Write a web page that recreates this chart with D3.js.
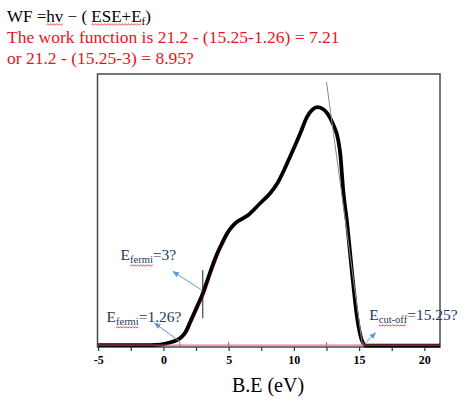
<!DOCTYPE html>
<html>
<head>
<meta charset="utf-8">
<script src="https://cdn.jsdelivr.net/npm/d3@7"></script>
<style>
body{margin:0;background:#fff;}
svg{display:block;}
</style>
</head>
<body>
<div id="chart"></div>
<script>
// spectrum: binding energy (eV) / intensity (arb. units, peak = 100)
var energy = [-5, -2, -1, -0.25, 0.5, 1.28, 1.7, 2.05, 2.6, 3.0, 3.35, 3.75, 4.1, 4.5, 4.9, 5.3, 5.65, 6.4, 7.4, 8.2, 8.75, 9.7, 10.5, 11.0, 11.4, 11.8, 12.2, 12.55, 13.0, 13.4, 13.55, 13.78, 14.08, 14.46, 14.84, 15.3, 15.5, 16, 18, 21.2];
var intensity = [0, 0, 0, 0.2, 1.1, 2.9, 5.5, 9.7, 16.4, 21.4, 26.9, 33.2, 38.2, 42.9, 47.1, 50.0, 51.8, 54.2, 59.5, 63.9, 68.1, 79.0, 89.1, 95.8, 98.8, 100, 99.3, 97.5, 92.9, 86.1, 80.7, 65.1, 51.3, 30.3, 11.8, 0.8, -0.2, -0.2, -0.2, -0.2];

var xTicks = [-5, 0, 5, 10, 15, 20];
var xMinorTicks = [-2.5, 2.5, 7.5, 12.5, 17.5];
var xLabel = "B.E (eV)";

// pink fit markers on the baseline
var markEnergies = [1.26, 5, 12.5, 15.3];

// tangent on the cut-off edge, and the bar at 3 eV
var tangentE = [12.5, 15.25];
var tangentI = [110.5, 0];
var barE = 3.02;
var barI = [11.3, 31.5];

// annotation labels: main letter, subscript, rest
var noteMain = ["E", "E", "E"];
var noteSub = ["fermi", "fermi", "cut-off"];
var noteRest = ["=3?", "=1.26?", "=15.25?"];
var noteE = [-3.28, -4.36, 15.78];
var noteI = [35.7, 9.7, 10.5];

// arrows: from (E,I) to (E,I)
var arrowFromE = [2.94, 1.28, 15.46];
var arrowFromI = [23.1, 1.4, 0.8];
var arrowToE = [0.77, -0.64, 16.23];
var arrowToI = [30.8, 9.1, 5.0];

var redLines = ["The work function is 21.2 - (15.25-1.26) = 7.21",
                "or 21.2 - (15.25-3) = 8.95?"];

var width = 474, height = 417;
var serif = "'Liberation Serif','Times New Roman',serif";

var svg = d3.select("#chart").append("svg")
    .attr("width", width)
    .attr("height", height);

var x = d3.scaleLinear().domain([-5.05, 21.2]).range([97.5, 440]);
var y = d3.scaleLinear().domain([-0.8, 113.9]).range([347, 74]);

//little red squiggle like the word spell-check marks
function wavy(x0, x1, yy){
    var p = "M" + x0 + "," + yy;
    var up = true;
    for (var xx = x0 + 1.5; xx <= x1; xx += 1.5){
        p += "L" + xx + "," + (up ? yy - 1.2 : yy);
        up = !up;
    }
    return p;
}
function squiggle(node, yy){
    var n = node.getNumberOfChars();
    var a = node.getStartPositionOfChar(0).x;
    var b = node.getEndPositionOfChar(n - 1).x;
    svg.append("path")
        .attr("d", wavy(a, b, yy))
        .attr("fill", "none")
        .attr("stroke", "#e0202a")
        .attr("stroke-width", 0.8);
}

// ---- header text
var t1 = svg.append("text")
    .attr("x", 7).attr("y", 22)
    .style("font-family", serif)
    .style("font-size", "17px")
    .attr("fill", "#000");
t1.append("tspan").text("WF =");
var hv = t1.append("tspan").text("hv");
t1.append("tspan").text(" \u2212 ( ");
var ese = t1.append("tspan").text("ESE+E");
t1.append("tspan").attr("dy", 3).style("font-size", "11px").text("f");
t1.append("tspan").attr("dy", -3).text(")");
squiggle(hv.node(), 25);
squiggle(ese.node(), 25);

svg.selectAll(".redline")
    .data(redLines)
    .enter().append("text")
    .attr("class", "redline")
    .attr("x", 7)
    .attr("y", function(d, i){ return 43 + i * 21; })
    .style("font-family", serif)
    .style("font-size", "17.5px")
    .attr("fill", "#e3161d")
    .text(function(d){ return d; });

// ---- frame
svg.append("rect")
    .attr("x", 97.5).attr("y", 74)
    .attr("width", 440 - 97.5).attr("height", 347 - 74)
    .attr("fill", "none")
    .attr("stroke", "#4a4a4a")
    .attr("stroke-width", 1.5);

// ---- spectrum
var pts = energy.map(function(e, i){ return [e, intensity[i]]; });
var line = d3.line()
    .x(function(d){ return x(d[0]); })
    .y(function(d){ return y(d[1]); })
    .curve(d3.curveMonotoneX);

// pink fit trace along the rising edge
svg.append("path")
    .datum(pts.filter(function(d){ return d[0] >= 1.2 && d[0] <= 5.3; }))
    .attr("d", line)
    .attr("fill", "none")
    .attr("stroke", "#ff4f86")
    .attr("stroke-width", 1.2)
    .attr("transform", "translate(1.8,0)");

svg.append("path")
    .datum(pts)
    .attr("d", line)
    .attr("fill", "none")
    .attr("stroke", "#000")
    .attr("stroke-width", 3.8)
    .attr("stroke-linejoin", "round");

// tangent line on the cut-off edge
svg.append("line")
    .attr("x1", x(tangentE[0])).attr("y1", y(tangentI[0]))
    .attr("x2", x(tangentE[1])).attr("y2", y(tangentI[1]))
    .attr("stroke", "#8a8a8a")
    .attr("stroke-width", 1);

// pink baseline + markers
svg.append("line")
    .attr("x1", x(-5)).attr("x2", x(21.2))
    .attr("y1", y(0)).attr("y2", y(0))
    .attr("stroke", "#ff3b73")
    .attr("stroke-opacity", 0.75)
    .attr("stroke-width", 1.3);
svg.selectAll(".mark")
    .data(markEnergies)
    .enter().append("line")
    .attr("class", "mark")
    .attr("x1", function(d){ return x(d); })
    .attr("x2", function(d){ return x(d); })
    .attr("y1", y(0) - 3).attr("y2", y(0) + 2)
    .attr("stroke", "#ff3b73")
    .attr("stroke-width", 1);

// bar at 3 eV
svg.append("line")
    .attr("x1", x(barE)).attr("x2", x(barE))
    .attr("y1", y(barI[0])).attr("y2", y(barI[1]))
    .attr("stroke", "#222")
    .attr("stroke-width", 1);

// ---- arrows
svg.append("defs").append("marker")
    .attr("id", "head")
    .attr("viewBox", "0 0 10 10")
    .attr("refX", 8).attr("refY", 5)
    .attr("markerWidth", 7).attr("markerHeight", 7)
    .attr("orient", "auto")
    .append("path")
    .attr("d", "M0,1L10,5L0,9Z")
    .attr("fill", "#5b9bd5");

svg.selectAll(".arrow")
    .data(arrowFromE)
    .enter().append("line")
    .attr("class", "arrow")
    .attr("x1", function(d){ return x(d); })
    .attr("y1", function(d, i){ return y(arrowFromI[i]); })
    .attr("x2", function(d, i){ return x(arrowToE[i]); })
    .attr("y2", function(d, i){ return y(arrowToI[i]); })
    .attr("stroke", "#5b9bd5")
    .attr("stroke-width", 1)
    .attr("marker-end", "url(#head)");

// ---- annotation labels
noteMain.forEach(function(m, i){
    var t = svg.append("text")
        .attr("x", x(noteE[i])).attr("y", y(noteI[i]))
        .style("font-family", serif)
        .style("font-size", "15.5px")
        .attr("fill", "#233a5e");
    t.append("tspan").text(m);
    var sub = t.append("tspan").attr("dy", 3).style("font-size", "10.5px").text(noteSub[i]);
    t.append("tspan").attr("dy", -3).text(noteRest[i]);
    squiggle(sub.node(), y(noteI[i]) + 6);
});

// ---- x axis
var axisY = 347;
var gMinor = svg.append("g")
    .attr("transform", "translate(0," + axisY + ")")
    .call(d3.axisBottom(x).tickValues(xMinorTicks).tickSize(4).tickFormat(""));
var gMajor = svg.append("g")
    .attr("transform", "translate(0," + axisY + ")")
    .call(d3.axisBottom(x).tickValues(xTicks).tickSize(4).tickPadding(4)
        .tickFormat(function(d){ return String(d); }));
[gMinor, gMajor].forEach(function(g){
    g.select(".domain").remove();
    g.selectAll("line").attr("stroke", "#333").attr("stroke-width", 1.2);
});
gMajor.selectAll("text")
    .style("font-family", serif)
    .style("font-size", "12px")
    .style("font-weight", "bold")
    .attr("fill", "#000");

svg.append("text")
    .attr("x", 268).attr("y", 392)
    .attr("text-anchor", "middle")
    .style("font-family", serif)
    .style("font-size", "20px")
    .attr("fill", "#000")
    .text(xLabel);
</script>
</body>
</html>
